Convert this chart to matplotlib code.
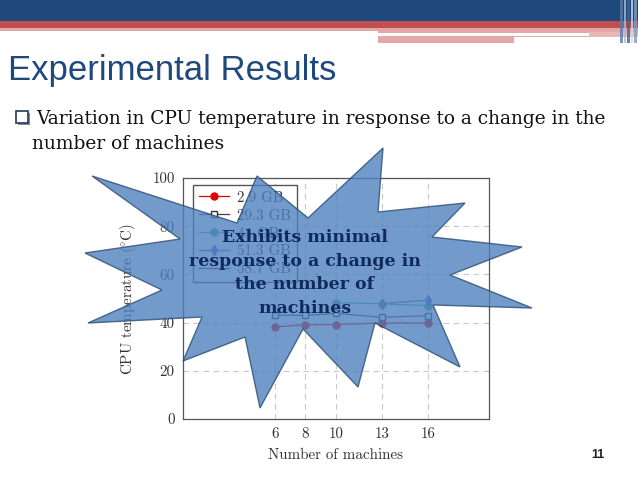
import numpy as np
import matplotlib.pyplot as plt
from matplotlib.patches import Rectangle, Polygon

plt.rcParams["mathtext.fontset"] = "cm"

# ---- data ----
machines = [6, 8, 10, 13, 16]
temp_2_9 = [38.2, 39.1, 39.2, 39.8, 39.8]
temp_29_3 = [43.1, 43.0, 43.8, 42.2, 42.9]
machines_44 = [10, 13, 16]
temp_44 = [48.3, 47.8, 47.0]
machines_51 = [13, 16]
temp_51_3 = [47.9, 49.3]
machines_58 = [16]
temp_58_7 = [49.0]

series_labels = ["2.9 GB", "29.3 GB", "44 GB", "51.3 GB", "58.7 GB"]
x_ticks = [6, 8, 10, 13, 16]
y_ticks = [0, 20, 40, 60, 80, 100]

# callout star outline, in slide pixels
star_xy = [(383, 148), (378, 212), (465, 203), (432, 237), (522, 247),
           (450, 275), (532, 308), (433, 305), (460, 367), (375, 323),
           (358, 387), (303, 329), (260, 408), (245, 337), (183, 361),
           (202, 317), (88, 323), (162, 290), (85, 253), (180, 239),
           (92, 176), (237, 223), (257, 176), (308, 218)]
star_text = "Exhibits minimal\nresponse to a change in\nthe number of\nmachines"

W, H = 638, 478
fig = plt.figure(figsize=(W / 100, H / 100), dpi=100)
fig.patch.set_facecolor("white")

cm = "cmr10"
txt_col = "#333333"
fs = 10.8

# ---- the chart ----
ax = fig.add_axes([183 / W, 1 - 419 / H, 306 / W, 241 / H])
ax.plot(machines, temp_2_9, color="#e00000", marker="o", ms=5, lw=0.9,
        label=series_labels[0])
ax.plot(machines, temp_29_3, color="#444444", marker="s", ms=5, lw=0.9,
        mfc="white", mec="#333333", label=series_labels[1])
ax.plot(machines_44, temp_44, color="#3cb58a", marker="o", ms=5, lw=0.9,
        label=series_labels[2])
ax.plot(machines_51, temp_51_3, color="#4a6fc0", marker="d", ms=5, lw=0.9,
        label=series_labels[3])
ax.plot(machines_58, temp_58_7, color="#333355", lw=0.9,
        label=series_labels[4])

ax.set_xlim(0, 20)
ax.set_ylim(0, 100)
ax.set_xticks(x_ticks)
ax.set_yticks(y_ticks)
ax.grid(True, ls=(0, (5, 4)), color="#c8c8c8", lw=0.8)
ax.tick_params(length=0, labelsize=fs, labelcolor=txt_col, pad=6)
for lab in ax.get_xticklabels() + ax.get_yticklabels():
    lab.set_family(cm)
for s in ax.spines.values():
    s.set_color("#555555")
    s.set_linewidth(0.9)
ax.set_xlabel("Number of machines", family=cm, fontsize=fs, color=txt_col,
              labelpad=5)
ax.set_ylabel(r"CPU temperature (${}^{\circ}$C)", family=cm, fontsize=fs,
              color=txt_col, labelpad=10)
leg = ax.legend(loc="upper left", bbox_to_anchor=(0.033, 0.971),
                borderaxespad=0, fancybox=False, edgecolor="#555555",
                framealpha=1, handlelength=2.0, labelspacing=0.28,
                handletextpad=0.5, prop={"family": cm, "size": fs})
for t in leg.get_texts():
    t.set_color(txt_col)

# ---- slide overlay ----
ov = fig.add_axes([0, 0, 1, 1], zorder=5)
ov.set_xlim(0, W)
ov.set_ylim(H, 0)
ov.axis("off")
ov.patch.set_alpha(0)

# header bands
ov.add_patch(Rectangle((0, 0), W, 21, color="#1f497d", lw=0))
ov.add_patch(Rectangle((0, 21), W, 7, color="#c0504d", lw=0))
ov.add_patch(Rectangle((0, 28), 378, 3, color="#e2a7a6", lw=0))
ov.add_patch(Rectangle((378, 28), W - 378, 15, color="#e2a7a6", lw=0))
ov.add_patch(Rectangle((378, 33), 211, 3, color="white", lw=0))
ov.add_patch(Rectangle((514, 37), W - 514, 6, color="white", lw=0))
ov.add_patch(Rectangle((589, 32), W - 589, 5, color="#e8b8b7", lw=0))
for i, c in enumerate(["#5a7aa8", "#a9bcd6", "#3f6394", "#cfdbea", "#7f9cc2"]):
    ov.add_patch(Rectangle((620 + i * 3.5, 0), 2.5, 43, color=c, lw=0,
                           alpha=0.8))

ov.text(8, 80, "Experimental Results", family="Liberation Sans", fontsize=25,
        color="#1f497d", va="baseline")

# bullet square with shadow
ov.add_patch(Rectangle((18, 113), 12, 12, color="#8a8a8a", lw=0))
ov.add_patch(Rectangle((16, 111), 12, 12, fc="white", ec="#1f3a60", lw=1.2))
ov.text(36, 124, "Variation in CPU temperature in response to a change in the",
        family="DejaVu Serif", fontsize=13.4, color="#111111", va="baseline")
ov.text(32, 149, "number of machines", family="DejaVu Serif", fontsize=13.4,
        color="#111111", va="baseline")

# callout star
ov.add_patch(Polygon(star_xy, closed=True, fc="#4f81bd", ec="#2c4d75",
                     lw=1.0, alpha=0.8))
ov.text(305, 273, star_text, family="DejaVu Serif", fontweight="bold",
        fontsize=12.5, color="#0f2a5c", ha="center", va="center",
        linespacing=1.52)

ov.text(598, 455, "11", family="Liberation Sans", fontweight="bold",
        fontsize=9, color="#222222", ha="center", va="center")

fig.savefig("out.png", dpi=100)
